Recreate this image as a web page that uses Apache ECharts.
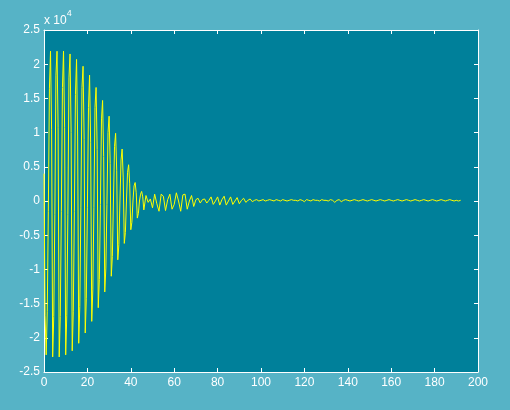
<!DOCTYPE html>
<html>
<head>
<meta charset="utf-8">
<script src="https://cdn.jsdelivr.net/npm/echarts@6/dist/echarts.min.js"></script>
<style>
  html, body { margin: 0; padding: 0; background: #56B3C6; }
  #chart { width: 510px; height: 410px; }
</style>
</head>
<body>
<div id="chart"></div>
<script>
// signal values, in units of 10^4
// first part: sampled every 0.5 from x = 0
const start1 = 0
const step1 = 0.5
const y1 = [
  0.4, -1.67, -2.25, -1.62, -0.15, 1.65,
  2.19, 1.05, -2.28, -1.69, -0.2, 1.84,
  2.19, 1.07, -2.28, -1.69, -0.15, 1.66,
  2.19, 1.07, -2.25, -1.67, -0.2, 1.8,
  2.15, 1.0, -2.19, -1.62, -0.15, 1.56,
  2.07, 0.95, -2.08, -1.54, -0.1, 1.66,
  1.97, 0.9, -1.93, -1.43, -0.1, 1.37,
  1.84, 0.85, -1.76, -1.3, -0.1, 1.37,
  1.66, 0.75, -1.56, -1.15, -0.05, 1.2,
  1.47, 0.65, -1.33, -0.98, -0.05, 1.0,
  1.24, 0.55, -1.1, -0.81, 0.0, 0.8,
  0.99, 0.45, -0.86, -0.64, 0.0, 0.6,
  0.76, 0.35, -0.62, -0.46, 0.0, 0.42,
  0.53, 0.25, -0.42, -0.31, 0.0, 0.22,
  0.27, 0.12, -0.25, -0.18, 0.0, 0.1,
  0.14, 0.06
]
// second part: sampled every 1 from x = 46
const start2 = 46
const step2 = 1
const y2 = [
  -0.13, 0.08, -0.02, 0.03, -0.1, 0.1, -0.04, -0.15, 0.1, 0.07,
  -0.14, 0.02, 0.1, -0.12, -0.05, 0.12, 0.0, -0.15, 0.09, 0.1,
  -0.12, 0.0, 0.08, -0.08, 0.02, 0.04, -0.03, 0.02, 0.03, -0.03,
  0.01, 0.06, -0.05, 0.0, 0.06, -0.06, 0.02, 0.07, -0.06, 0.0,
  0.06, -0.05, 0.0, 0.05, -0.04, 0.01, 0.04, -0.02, 0.01, 0.03,
  -0.01, 0.01, 0.02, 0.0,
  0.01, 0.02, 0.0, 0.01, 0.02, 0.01, 0.0, 0.02, 0.01, 0.0,
  0.02, 0.01, 0.0, 0.01, 0.02, 0.01, 0.01, 0.0, 0.02, 0.01,
  -0.01, 0.02, 0.01, 0.0, 0.02, 0.01, 0.01, 0.0, 0.02, 0.01,
  0.01, 0.0, 0.02, 0.01, -0.02, 0.01, 0.02, -0.01, 0.01, 0.02,
  0.01, 0.0, 0.01, 0.02, 0.01, 0.0, 0.01, 0.02, 0.01, 0.0,
  0.01, 0.02, 0.01, 0.0, 0.01, 0.02, 0.01, 0.0, 0.01, 0.02,
  0.01, 0.0, 0.01, 0.02, 0.01, 0.0, 0.01, 0.02, 0.01, 0.0,
  0.01, 0.02, 0.01, 0.0, 0.01, 0.02, 0.01, 0.0, 0.01, 0.02,
  0.01, 0.0, 0.01, 0.02, 0.01, 0.0, 0.01, 0.02, 0.01, 0.0,
  0.01, 0.0, 0.01
]

const xTicks = { min: 0, max: 200, interval: 20 }
const yTicks = { min: -2.5, max: 2.5, interval: 0.5 }

const points = []
y1.forEach((v, i) => points.push([start1 + i * step1, v]))
y2.forEach((v, i) => points.push([start2 + i * step2, v]))

const white = '#FFFFFF'
const font = 'Liberation Sans, Arial, sans-serif'

const chart = echarts.init(document.getElementById('chart'))

const axisCommon = {
  type: 'value',
  axisLine: { show: true, onZero: false, lineStyle: { color: white, width: 1 } },
  axisTick: { show: true, inside: true, length: 4, lineStyle: { color: white } },
  splitLine: { show: false }
}

chart.setOption({
  backgroundColor: '#56B3C6',
  animation: false,
  grid: {
    left: 44, top: 30, right: 32, bottom: 38,
    show: true, backgroundColor: '#00809A', borderWidth: 0
  },
  graphic: [{
    type: 'text',
    left: 44, top: 9,
    style: {
      text: '{a|x 10}{b|4}',
      rich: {
        a: { fill: white, fontSize: 12, fontFamily: font, padding: [6, 0, 0, 0] },
        b: { fill: white, fontSize: 9, fontFamily: font, verticalAlign: 'top' }
      }
    }
  }],
  xAxis: [
    Object.assign({}, axisCommon, {
      position: 'bottom',
      min: xTicks.min, max: xTicks.max, interval: xTicks.interval,
      axisLabel: { color: white, fontSize: 12, fontFamily: font, margin: 5 }
    }),
    Object.assign({}, axisCommon, {
      position: 'top',
      min: xTicks.min, max: xTicks.max, interval: xTicks.interval,
      axisLabel: { show: false }
    })
  ],
  yAxis: [
    Object.assign({}, axisCommon, {
      position: 'left',
      min: yTicks.min, max: yTicks.max, interval: yTicks.interval,
      axisLabel: { color: white, fontSize: 12, fontFamily: font, margin: 4 }
    }),
    Object.assign({}, axisCommon, {
      position: 'right',
      min: yTicks.min, max: yTicks.max, interval: yTicks.interval,
      axisLabel: { show: false }
    })
  ],
  series: [{
    type: 'line',
    data: points,
    showSymbol: false,
    lineStyle: { color: '#FFFF00', width: 1 },
    itemStyle: { color: '#FFFF00' }
  }]
})
</script>
</body>
</html>
